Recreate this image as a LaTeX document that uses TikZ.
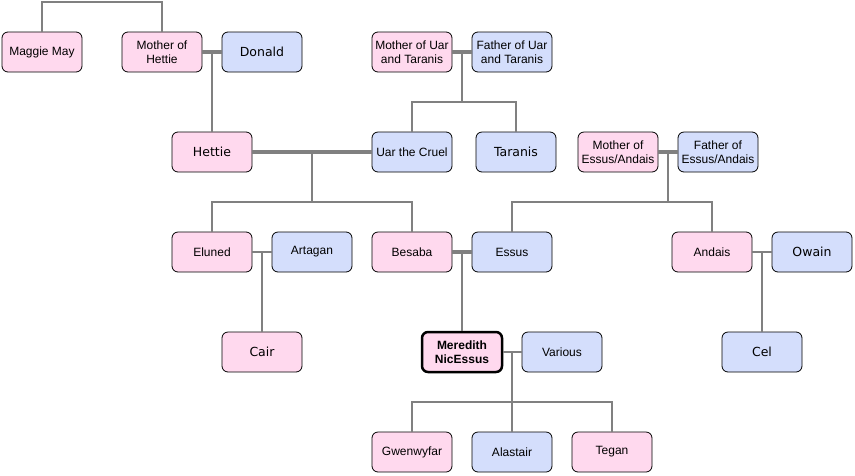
\documentclass[tikz,border=0pt]{standalone}
\usepackage{fontspec}
\setmainfont{Liberation Sans}
\newfontfamily\dv{DejaVu Sans}
\definecolor{pk}{HTML}{FFD9EE}
\definecolor{bl}{HTML}{D4DEFC}
\definecolor{ln}{HTML}{808080}
\begin{document}
\begin{tikzpicture}[x=1pt,y=-1pt,
  box/.style={draw=black,rounded corners=6pt,minimum width=80pt,minimum height=40pt,inner sep=1pt,align=center,font=\fontsize{12}{13.5}\selectfont,line width=0.8pt},
  f/.style={box,fill=pk}, m/.style={box,fill=bl},
  dj/.style={font=\dv\fontsize{12.5}{14}\selectfont},
  kid/.style={draw=ln,line width=2pt},
  wed/.style={draw=ln,line width=4pt}]
\useasboundingbox (0,0) rectangle (855,475);
\node[f] (mm) at (42,52) {Maggie May};
\node[f] (moh) at (162,52) {Mother of\\Hettie};
\node[m,dj] (don) at (262,52) {Donald};
\node[f] (mou) at (412,52) {Mother of Uar\\and Taranis};
\node[m] (fou) at (512,52) {Father of Uar\\and Taranis};
\node[f,dj] (het) at (212,152) {Hettie};
\node[m] (uar) at (412,152) {Uar the Cruel};
\node[m,dj] (tar) at (516,152) {Taranis};
\node[f] (mea) at (618,152) {Mother of\\Essus/Andais};
\node[m] (fea) at (718,152) {Father of\\Essus/Andais};
\node[f] (elu) at (212,252) {Eluned};
\node[m] (art) at (312,252) {Artagan};
\node[f] (bes) at (412,252) {Besaba};
\node[m] (ess) at (512,252) {Essus};
\node[f] (and) at (712,252) {Andais};
\node[m,dj] (owa) at (812,252) {Owain};
\node[f,dj] (cai) at (262,352) {Cair};
\node[f,line width=2.5pt,font=\bfseries\fontsize{12}{13.5}\selectfont] (mer) at (462,352) {Meredith\\NicEssus};
\node[m] (var) at (562,352) {Various};
\node[m,dj] (cel) at (762,352) {Cel};
\node[f] (gwe) at (412,452) {Gwenwyfar};
\node[m] (ala) at (512,452) {Alastair};
\node[f] (teg) at (612,452) {Tegan};
% lines
\draw[kid] (mm.north) |- (162,2) -- (moh.north);
\draw[wed] (moh.east) -- (don.west);
\draw[kid] (212,52) -- (het.north);
\draw[wed] (mou.east) -- (fou.west);
\draw[kid] (462,52) -- (462,102);
\draw[kid] (uar.north) |- (tar.north |- 0,102) -- (tar.north);
\draw[wed] (het.east) -- (uar.west);
\draw[kid] (312,152) -- (312,202);
\draw[kid] (elu.north) |- (bes.north |- 0,202) -- (bes.north);
\draw[wed] (mea.east) -- (fea.west);
\draw[kid] (668,152) -- (668,202);
\draw[kid] (ess.north) |- (and.north |- 0,202) -- (and.north);
\draw[kid] (elu.east) -- (art.west);
\draw[kid] (262,252) -- (cai.north);
\draw[wed] (bes.east) -- (ess.west);
\draw[kid] (462,252) -- (mer.north);
\draw[kid] (and.east) -- (owa.west);
\draw[kid] (762,252) -- (cel.north);
\draw[kid] (mer.east) -- (var.west);
\draw[kid] (512,352) -- (ala.north);
\draw[kid] (gwe.north) |- (teg.north |- 0,402) -- (teg.north);
\end{tikzpicture}
\end{document}
